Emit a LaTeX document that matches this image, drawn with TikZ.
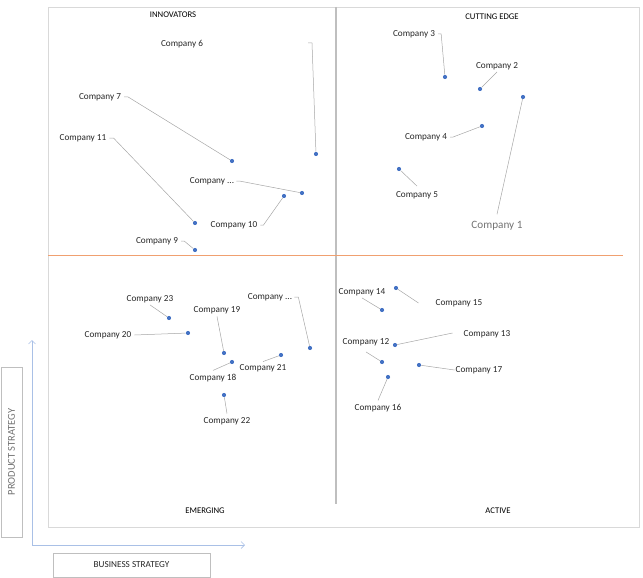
\documentclass[tikz,border=0pt]{standalone}
\usepackage{fontspec}
\setmainfont{Carlito}
\usetikzlibrary{arrows.meta}
\definecolor{dotblue}{HTML}{4472C4}
\definecolor{leadgray}{HTML}{A6A6A6}
\definecolor{framegray}{HTML}{D9D9D9}
\definecolor{divgray}{HTML}{BFBFBF}
\definecolor{orangeline}{HTML}{F0A070}
\definecolor{axisblue}{HTML}{A9C0E6}
\begin{document}
\begin{tikzpicture}[x=1pt,y=-1pt,
    dot/.style={circle,fill=dotblue,inner sep=0pt,minimum size=4.2pt},
    lbl/.style={font=\fontsize{9.2}{10}\selectfont,text=black!85,inner sep=0pt},
    quad/.style={font=\fontsize{8.7}{10}\selectfont,inner sep=0pt},
    leader/.style={draw=leadgray,line width=0.5pt},
    axisbox/.style={draw=divgray,inner sep=0pt},
    axisline/.style={draw=axisblue,line width=0.6pt,-{Straight Barb[length=3.5pt,width=7pt]}}]
        \useasboundingbox (0,0) rectangle (643,578);

        % frame and quadrant dividers
        \draw[framegray] (48,7) rectangle (639,527);
        \draw[divgray,line width=1.2pt] (336,7) -- (336,504);
        \draw[orangeline,line width=0.8pt] (48,255.5) -- (623,255.5);

        \node[quad] (inno) at (173,15) {INNOVATORS};
        \node[quad] (edge) at (492,17) {CUTTING EDGE};
        \node[quad] (emer) at (205,511) {EMERGING};
        \node[quad] (actv) at (498,511) {ACTIVE};

        % axes
        \coordinate (orig) at (32,545);
        \coordinate (ytip) at (32,340);
        \coordinate (xtip) at (245,545);
        \draw[axisline] (orig) -- (ytip);
        \draw[axisline] (orig) -- (xtip);
        \node[axisbox,minimum width=21pt,minimum height=170pt] (pbox) at (11.5,452) {};
        \node[font=\fontsize{10.5}{12}\selectfont,text=black!55,rotate=90] at (pbox) {PRODUCT STRATEGY};
        \node[axisbox,minimum width=157pt,minimum height=24pt] (bbox) at (131.5,565) {};
        \node[font=\fontsize{9.2}{11}\selectfont,text=black!85] at (bbox) {BUSINESS STRATEGY};

        % innovators
        \node[dot] (d6) at (316,154) {};
        \node[lbl] (l6) at (182,44) {Company 6};
        \coordinate (c6) at (308,43);
        \draw[leader] (c6) -- ++(4,0) -- (d6);

        \node[dot] (d7) at (232,161) {};
        \node[lbl] (l7) at (100,97) {Company 7};
        \draw[leader] ([xshift=3pt]l7.east) -- ++(4,0) -- (d7);

        \node[dot] (d11) at (195,223) {};
        \node[lbl] (l11) at (83,138) {Company 11};
        \draw[leader] ([xshift=3pt]l11.east) -- ++(4,0) -- (d11);

        \node[dot] (d8) at (302,193) {};
        \node[lbl] (l8) at (212,181) {Company ...};
        \draw[leader] ([xshift=2pt]l8.east) -- ++(3,0) -- (d8);

        \node[dot] (d10) at (284,196) {};
        \node[lbl] (l10) at (234,225) {Company 10};
        \draw[leader] ([xshift=3pt]l10.east) -- ++(3,0) -- (d10);

        \node[dot] (d9) at (195,250) {};
        \node[lbl] (l9) at (157,241) {Company 9};
        \draw[leader] ([xshift=3pt]l9.east) -- ++(3,0) -- (d9);

        % cutting edge
        \node[dot] (d3) at (445,77) {};
        \node[lbl] (l3) at (414,34) {Company 3};
        \draw[leader] ([xshift=3pt]l3.east) -- ++(3,0) -- (d3);

        \node[dot] (d2) at (480,89) {};
        \node[lbl] (l2) at (497,66) {Company 2};
        \draw[leader] ([yshift=-2pt]l2.south) -- (d2);

        \node[dot] (d1) at (523,97) {};
        \node[lbl,font=\fontsize{11.2}{13}\selectfont,text=black!55] (l1) at (497,226) {Company 1};
        \draw[leader] ([yshift=7pt]l1.north) -- (d1);

        \node[dot] (d4) at (482,126) {};
        \node[lbl] (l4) at (426,137) {Company 4};
        \draw[leader] ([xshift=3pt]l4.east) -- ++(3,0) -- (d4);

        \node[dot] (d5) at (399,169) {};
        \node[lbl] (l5) at (417,195) {Company 5};
        \draw[leader] ([yshift=5pt]l5.north) -- (d5);

        % emerging
        \node[dot] (d23) at (169,318) {};
        \node[lbl] (l23) at (150,299) {Company 23};
        \draw[leader] ([yshift=-2pt]l23.south) -- (d23);

        \node[dot] (d19) at (224,353) {};
        \node[lbl] (l19) at (217,310) {Company 19};
        \draw[leader] ([yshift=-2.5pt]l19.south) -- (d19);

        \node[dot] (d20) at (188,333) {};
        \node[lbl] (l20) at (108,335) {Company 20};
        \draw[leader] ([xshift=3pt]l20.east) -- (d20);

        \node[dot] (d24) at (310,348) {};
        \node[lbl] (l24) at (270,297) {Company ...};
        \draw[leader] ([xshift=2pt]l24.east) -- ++(4,0) -- (d24);

        \node[dot] (d18) at (232,362) {};
        \node[lbl] (l18) at (213,378) {Company 18};
        \draw[leader] ([yshift=3.5pt]l18.north) -- (d18);

        \node[dot] (d21) at (281,355) {};
        \node[lbl] (l21) at (263,368) {Company 21};
        \draw[leader] ([yshift=2.5pt]l21.north) -- (d21);

        \node[dot] (d22) at (224,395) {};
        \node[lbl] (l22) at (227,421) {Company 22};
        \draw[leader] ([yshift=3.5pt]l22.north) -- (d22);

        % active
        \node[dot] (d14) at (382,310) {};
        \node[lbl] (l14) at (362,292) {Company 14};
        \draw[leader] ([yshift=-2pt]l14.south) -- (d14);

        \node[dot] (d15) at (396,288) {};
        \node[lbl] (l15) at (459,303) {Company 15};
        \draw[leader] ([xshift=-17pt]l15.west) -- (d15);

        \node[dot] (d13) at (395,345) {};
        \node[lbl] (l13) at (487,334) {Company 13};
        \draw[leader] ([xshift=-11pt,yshift=1pt]l13.west) -- (d13);

        \node[dot] (d12) at (382,362) {};
        \node[lbl] (l12) at (366,342) {Company 12};
        \draw[leader] ([yshift=-6pt]l12.south) -- (d12);

        \node[dot] (d17) at (419,365) {};
        \node[lbl] (l17) at (479,370) {Company 17};
        \draw[leader] ([xshift=-1pt]l17.west) -- (d17);

        \node[dot] (d16) at (388,377) {};
        \node[lbl] (l16) at (378,408) {Company 16};
        \draw[leader] ([yshift=3.5pt]l16.north) -- (d16);
      \end{tikzpicture}
\end{document}
